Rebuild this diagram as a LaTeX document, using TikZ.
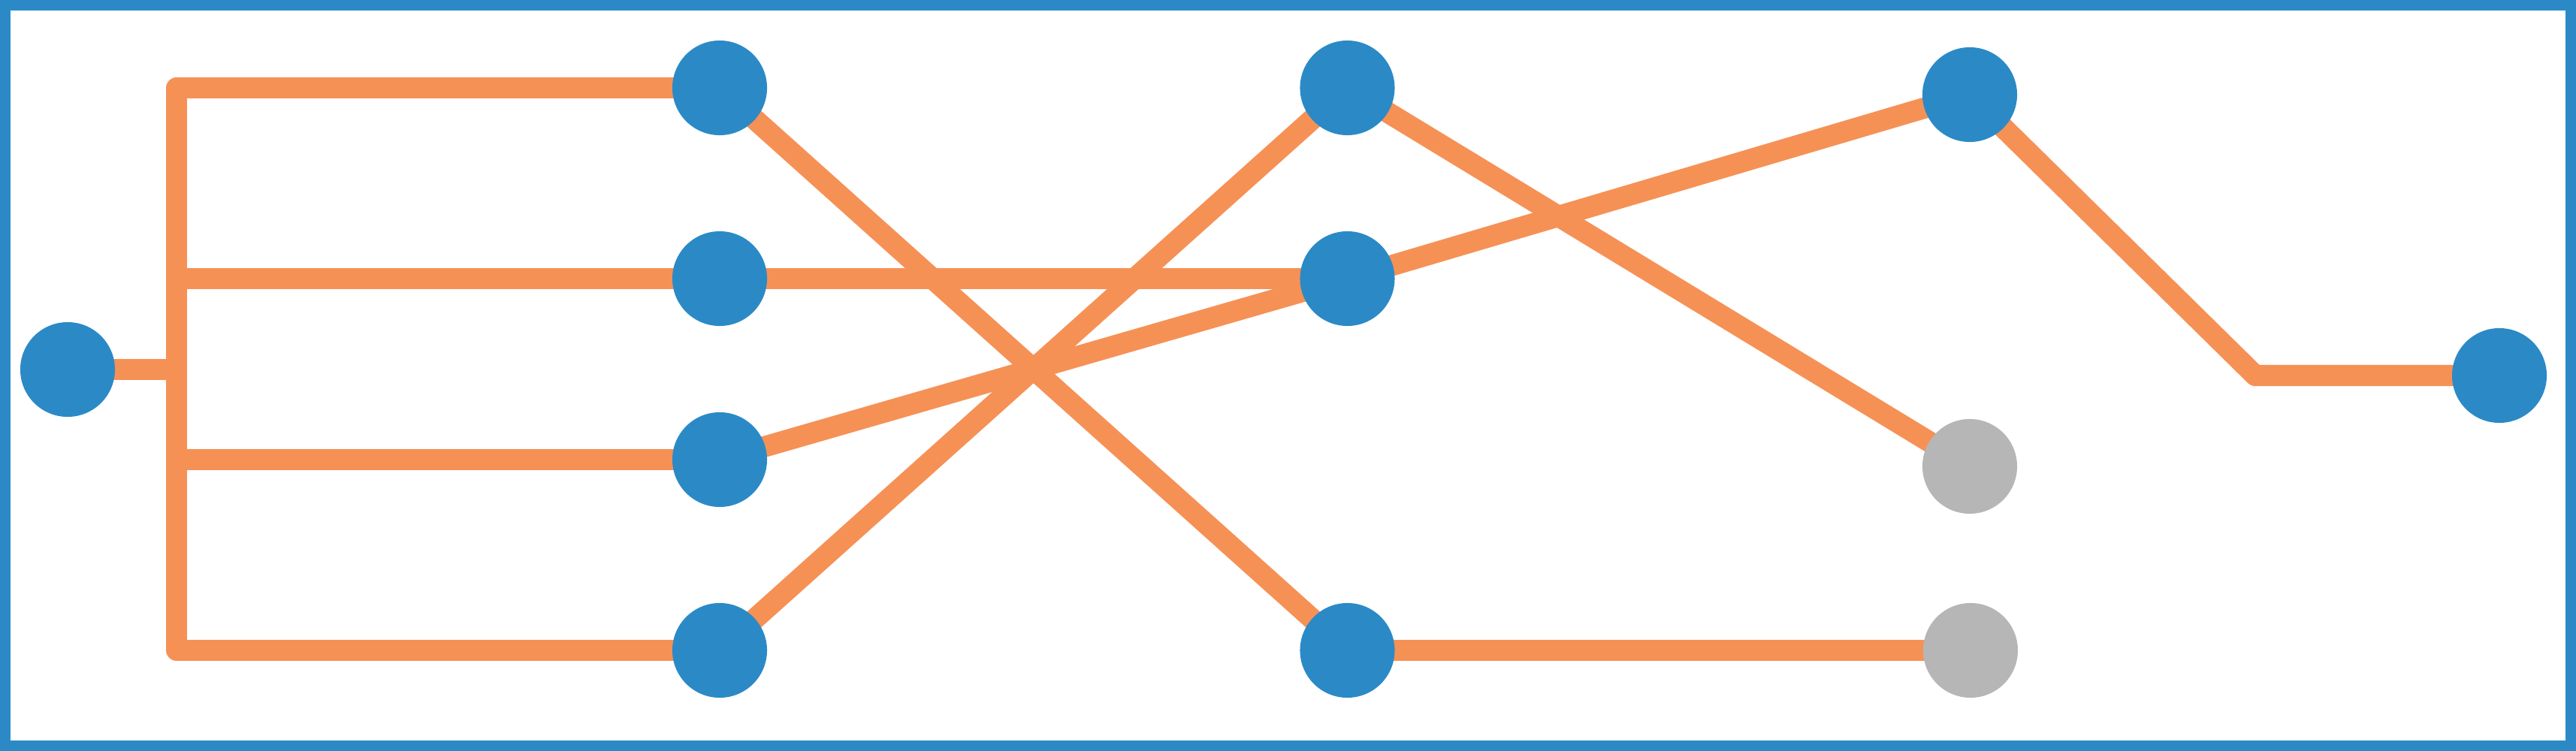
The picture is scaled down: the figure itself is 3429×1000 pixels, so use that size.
\documentclass[tikz,border=0pt]{standalone}
\usepackage{tikz}
\usetikzlibrary{positioning,backgrounds}
\definecolor{nodeblue}{HTML}{2B8AC6}
\definecolor{wireorange}{HTML}{F69156}
\definecolor{deadgray}{HTML}{B6B6B6}

\begin{document}
\begin{tikzpicture}[x=0.01cm, y=-0.01cm, every node/.style={circle, inner sep=0pt, minimum size=1.26cm}, live/.style={fill=nodeblue}, dead/.style={fill=deadgray}, wire/.style={draw=wireorange, line width=0.28cm, line join=round}]

				\useasboundingbox (0,0) rectangle (3429,1000);
				\draw[nodeblue, line width=0.14cm] (7,7) rectangle (3422,993);

				\node [live] (R) at (90,492) {};
				\coordinate (F) at (235,492);

				\node [live] (A1) at (958,117) {};
				\node [live] (A2) at (958,371) {};
				\node [live] (A3) at (958,612) {};
				\node [live] (A4) at (958,866) {};

				\node [live] (B1) [right of=A1, node distance=8.35cm] {};
				\node [live] (B2) [right of=A2, node distance=8.35cm] {};
				\node [live] (B3) [right of=A4, node distance=8.35cm] {};

				\node [live] (C1) at (2622,126) {};
				\node [dead] (C3) at (2622,621) {};
				\node [dead] (C4) [right of=B3, node distance=8.29cm] {};

				\coordinate (E) at (3002,500);
				\node [live] (D) at (3327,500) {};

				\begin{scope}[on background layer]
					\draw[wire] (R.center) -- (F);
					\draw[wire] (F) |- (A1.center);
					\draw[wire] (F) |- (A2.center);
					\draw[wire] (F) |- (A3.center);
					\draw[wire] (F) |- (A4.center);

					\draw[wire] (A1.center) -- (B3.center);
					\draw[wire] (A2.center) -- (B2.center);
					\draw[wire] (A3.center) -- (B2.center);
					\draw[wire] (A4.center) -- (B1.center);

					\draw[wire] (B1.center) -- (C3.center);
					\draw[wire] (B2.center) -- (C1.center);
					\draw[wire] (B3.center) -- (C4.center);

					\draw[wire] (C1.center) -- (E) -- (D.center);
				\end{scope}

			\end{tikzpicture}
\end{document}
